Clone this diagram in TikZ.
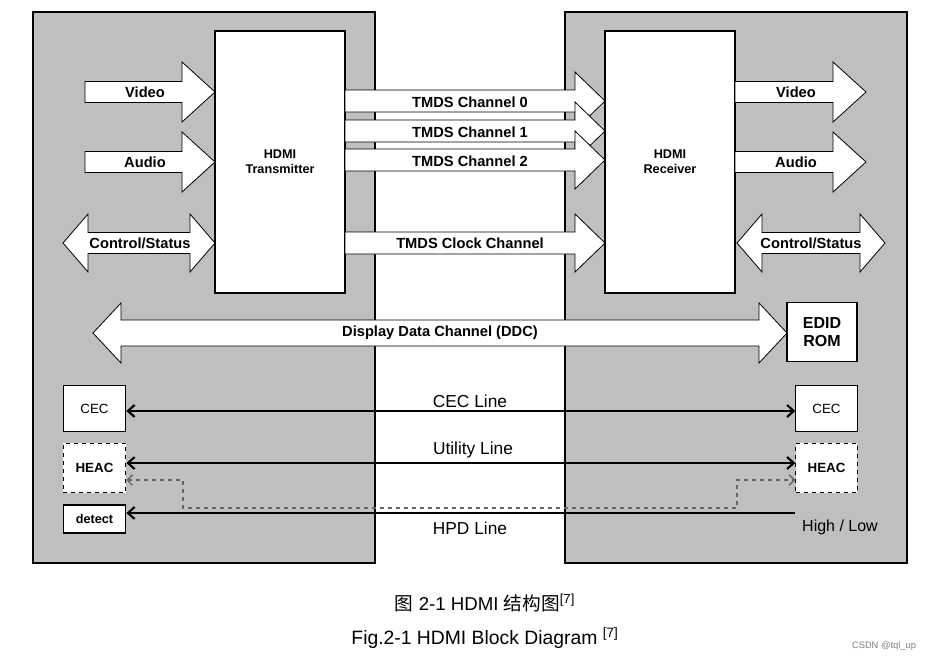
\documentclass[tikz,border=0pt]{standalone}
\usepackage{fontspec}
\setmainfont{Liberation Sans}
\newfontfamily\cjk{Noto Sans CJK SC}
\usetikzlibrary{arrows.meta}
\newcommand\RArr[6]{% x1 x2 yc bodyhalf headhalf headlen
  \fill[white,draw=black,line width=0.6pt] (#1,#3-#4) -- (#2-#6,#3-#4) -- (#2-#6,#3-#5) -- (#2,#3) -- (#2-#6,#3+#5) -- (#2-#6,#3+#4) -- (#1,#3+#4) -- cycle;}
\newcommand\DArr[6]{%
  \fill[white,draw=black,line width=0.6pt] (#1+#6,#3-#4) -- (#2-#6,#3-#4) -- (#2-#6,#3-#5) -- (#2,#3) -- (#2-#6,#3+#5) -- (#2-#6,#3+#4) -- (#1+#6,#3+#4) -- (#1+#6,#3+#5) -- (#1,#3) -- (#1+#6,#3-#5) -- cycle;}
\begin{document}
\begin{tikzpicture}[x=0.75pt,y=-0.75pt,
  panel/.style={fill=black!25,draw=black,line width=0.8pt},
  box/.style={draw=black,fill=white,line width=0.8pt},
  lab/.style={font=\bfseries\fontsize{11}{12}\selectfont},
  sm/.style={font=\bfseries\fontsize{9.5}{11}\selectfont,align=center},
  ln/.style={font=\fontsize{13}{14}\selectfont},
  sig/.style={line width=1.6pt,{Straight Barb[length=5pt,width=9pt]}-{Straight Barb[length=5pt,width=9pt]}}]
\useasboundingbox (0,0) rectangle (948,661);
\draw[panel] (33,12) rectangle (375,563);
\draw[panel] (565,12) rectangle (907,563);
\node[box,minimum width=97.5pt,minimum height=196.5pt,sm] (tx) at (280,162) {HDMI\\Transmitter};
\node[box,minimum width=97.5pt,minimum height=196.5pt,sm] (rx) at (670,162) {HDMI\\Receiver};
% left
\RArr{85}{215}{92}{10.5}{30}{33}
\node[lab] (v1) at (145,92) {Video};
\RArr{85}{215}{162}{10.5}{30}{33}
\node[lab] (a1) at (145,162) {Audio};
\DArr{63}{215}{243}{10.5}{29}{25}
\node[lab] (c1) at (140,243) {Control/Status};
% right
\RArr{735}{866}{92}{10.5}{30}{33}
\node[lab] (v2) at (796,92) {Video};
\RArr{735}{866}{162}{10.5}{30}{33}
\node[lab] (a2) at (796,162) {Audio};
\DArr{737}{885}{243}{10.5}{29}{25}
\node[lab] (c2) at (811,243) {Control/Status};
% TMDS
\RArr{345}{605}{101}{11}{29}{30}
\RArr{345}{605}{131}{11}{29}{30}
\RArr{345}{605}{160}{11}{29}{30}
\node[lab] (t0) at (470,102) {TMDS Channel 0};
\node[lab] (t1) at (470,132) {TMDS Channel 1};
\node[lab] (t2) at (470,161) {TMDS Channel 2};
\RArr{345}{605}{243}{11}{29}{30}
\node[lab] (tc) at (470,243) {TMDS Clock Channel};
% DDC
\DArr{93}{787}{333}{13}{30}{28}
\node[lab] (ddc) at (440,333) {Display Data Channel (DDC)};
\node[box,minimum width=52.5pt,minimum height=44pt,font=\bfseries\fontsize{12}{14}\selectfont,align=center] (edid) at (822,332) {EDID\\ROM};
% bottom boxes
\node[box,minimum width=47pt,minimum height=35pt,font=\fontsize{10}{12}\selectfont] (cecl) at (94.5,408.5) {CEC};
\node[box,minimum width=46pt,minimum height=35pt,font=\fontsize{10}{12}\selectfont] (cecr) at (826.5,408.5) {CEC};
\node[box,dashed,minimum width=47pt,minimum height=37pt,font=\bfseries\fontsize{10}{12}\selectfont] (heacl) at (94.5,468) {HEAC};
\node[box,dashed,minimum width=46pt,minimum height=37pt,font=\bfseries\fontsize{10}{12}\selectfont] (heacr) at (826.5,468) {HEAC};
\node[box,minimum width=47pt,minimum height=21pt,font=\bfseries\fontsize{9.5}{11}\selectfont] (det) at (94.5,519) {detect};
\draw[sig] (cecl.east |- 0,411) -- (cecr.west |- 0,411);
\draw[sig] (heacl.east |- 0,463) -- (heacr.west |- 0,463);
\coordinate (hl) at (795,513);
\draw[line width=1.6pt,-{Straight Barb[length=5pt,width=9pt]}] (hl) -- (det.east |- 0,513);
\draw[black!60,dashed,line width=1pt,{Straight Barb[length=4pt,width=8pt]}-{Straight Barb[length=4pt,width=8pt]}]
  (heacl.east |- 0,480) -- (183,480) -- (183,508) -- (737,508) -- (737,480) -- (heacr.west |- 0,480);
\node[ln] (cecln) at (470,401) {CEC Line};
\node[ln] (utl) at (473,450) {Utility Line};
\node[ln] (hpd) at (470,528) {HPD Line};
\node[font=\fontsize{12}{14}\selectfont] (hilo) at (840,527) {High / Low};
% caption
\node[font=\fontsize{14}{16}\selectfont] (cap1) at (485,603) {{\cjk 图} 2-1 HDMI {\cjk 结构图}\textsuperscript{[7]}};
\node[font=\fontsize{14.5}{16}\selectfont] (cap2) at (485,638) {Fig.2-1 HDMI Block Diagram \textsuperscript{[7]}};
\node[font=\fontsize{7}{8}\selectfont,text=black!50] (wm) at (884,646) {CSDN @tql\_up};
\end{tikzpicture}
\end{document}
